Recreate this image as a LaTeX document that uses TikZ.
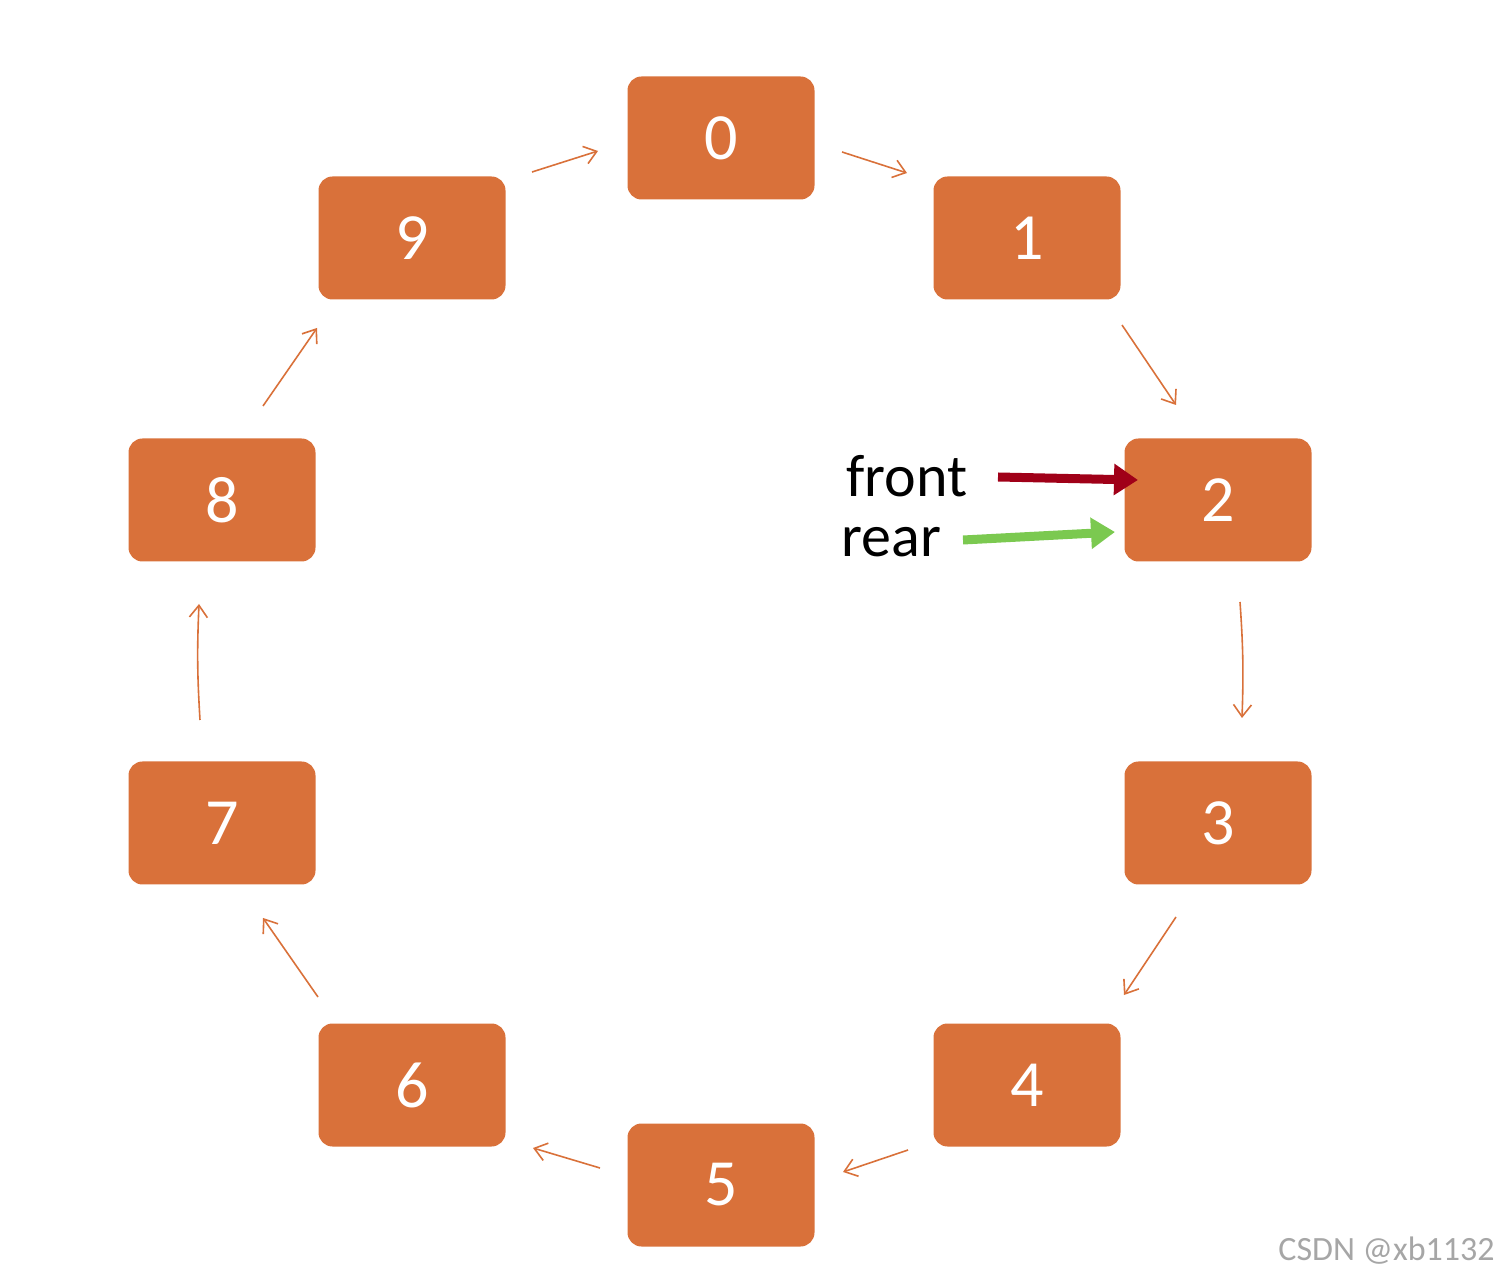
\documentclass[tikz,border=0pt]{standalone}
\usepackage{fontspec}
\setmainfont{Carlito}
\usetikzlibrary{arrows.meta}
\definecolor{box}{HTML}{D9713A}
\definecolor{redarr}{HTML}{A00018}
\definecolor{greenarr}{HTML}{7BC950}
\begin{document}
\begin{tikzpicture}[x=0.5pt,y=-0.5pt,
  cell/.style={fill=box,draw=none,rounded corners=7pt,minimum width=93.5pt,minimum height=61.5pt,text=white,font=\fontsize{33}{36}\selectfont,inner sep=0pt},
  link/.style={draw=box,line width=0.8pt,-{Straight Barb[length=6pt,width=9pt]}},
  lbl/.style={font=\fontsize{30}{34}\selectfont,text=black,inner sep=0pt}]
\useasboundingbox (0,0) rectangle (1500,1277);
\node[cell] (n0) at (721,138) {0};
\node[cell] (n1) at (1027,238) {1};
\node[cell] (n2) at (1218,500) {2};
\node[cell] (n3) at (1218,823) {3};
\node[cell] (n4) at (1027,1085) {4};
\node[cell] (n5) at (721,1185) {5};
\node[cell] (n6) at (412,1085) {6};
\node[cell] (n7) at (222,823) {7};
\node[cell] (n8) at (222,500) {8};
\node[cell] (n9) at (412,238) {9};
\coordinate (a0s) at (842,152); \coordinate (a0e) at (907,173);
\coordinate (a1s) at (1122,325); \coordinate (a1e) at (1176,405);
\coordinate (a2s) at (1240,602); \coordinate (a2e) at (1242,718);
\coordinate (a3s) at (1176,917); \coordinate (a3e) at (1124,995);
\coordinate (a4s) at (908,1150); \coordinate (a4e) at (843,1172);
\coordinate (a5s) at (600,1168); \coordinate (a5e) at (533,1148);
\coordinate (a6s) at (318,997); \coordinate (a6e) at (263,918);
\coordinate (a7s) at (200,720); \coordinate (a7e) at (199,604);
\coordinate (a8s) at (263,406); \coordinate (a8e) at (317,328);
\coordinate (a9s) at (532,172); \coordinate (a9e) at (598,151);
\draw[link] (a0s) -- (a0e);
\draw[link] (a1s) -- (a1e);
\draw[link] (a2s) to[bend left=3] (a2e);
\draw[link] (a3s) -- (a3e);
\draw[link] (a4s) -- (a4e);
\draw[link] (a5s) -- (a5e);
\draw[link] (a6s) -- (a6e);
\draw[link] (a7s) to[bend left=3] (a7e);
\draw[link] (a8s) -- (a8e);
\draw[link] (a9s) -- (a9e);
\node[lbl,anchor=base west] (front) at (846,497) {front};
\node[lbl,anchor=base west] (rear) at (841,557) {rear};
\coordinate (fs) at (998,477); \coordinate (fe) at (1138,480);
\coordinate (rs) at (963,540); \coordinate (re) at (1115,532);
\draw[redarr,line width=4.5pt,-{Triangle[length=12pt,width=15pt]}] (fs) -- (fe);
\draw[greenarr,line width=4.5pt,-{Triangle[length=12pt,width=15pt]}] (rs) -- (re);
\node[anchor=base east,text=gray!70,font=\fontsize{17}{20}\selectfont,inner sep=0pt] (wm) at (1495,1260) {CSDN @xb1132};
\end{tikzpicture}
\end{document}
